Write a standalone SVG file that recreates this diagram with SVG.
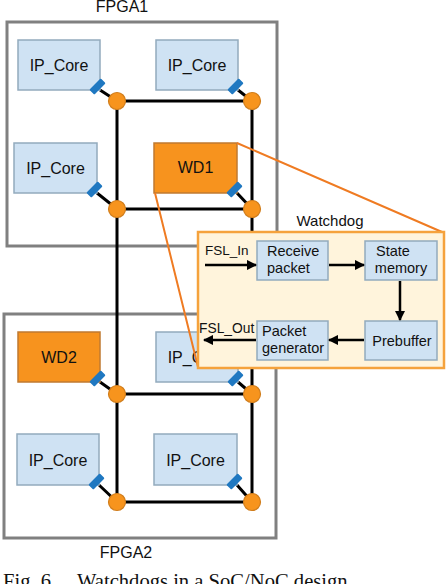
<svg xmlns="http://www.w3.org/2000/svg" width="446" height="584" viewBox="0 0 446 584">
<style>
text{font-family:"Liberation Sans",Arial,sans-serif;fill:#111}
.fpga{fill:#fff;stroke:#808080;stroke-width:3}
.ip{fill:#cfe2f3;stroke:#93aabd;stroke-width:1.5}
.wd{fill:#f7931e;stroke:#c07a30;stroke-width:1.5}
.rt{fill:#f7941d;stroke:#d07d1c;stroke-width:1.2}
.pt{fill:#1f78c1}
.lk{stroke:#000;stroke-width:3;fill:none}
.zm{stroke:#ef7b22;stroke-width:2;fill:none}
.wbox{fill:#fff4dc;stroke:#f5a23c;stroke-width:2.5}
.blk{fill:#cfe2f3;stroke:#93aabd;stroke-width:1.5}
.ar{stroke:#000;stroke-width:2.5;fill:none}
.lbl{font-size:16px}
.t15{font-size:14.5px}
</style>
<defs>
<marker id="ah" viewBox="0 0 10 10" refX="9" refY="5" markerWidth="4.2" markerHeight="4.2" orient="auto" markerUnits="strokeWidth">
<path d="M0,0 L10,5 L0,10 Z" fill="#000"/>
</marker>
<rect id="port" x="-8" y="-3.5" width="16" height="7" rx="1"/>
</defs>

<g id="fpga1">
<rect class="fpga" x="7" y="22" width="270" height="224"/>
<text x="122" y="12" text-anchor="middle" class="lbl">FPGA1</text>
</g>
<g id="fpga2">
<rect class="fpga" x="4" y="314" width="272" height="224"/>
<text x="126" y="558" text-anchor="middle" class="lbl">FPGA2</text>
</g>

<g id="connectors">
<path class="lk" d="M117,101 H252 M117,209 H252 M117,394 H252 M117,502 H252 M117,101 V502 M252,101 V502"/>
<path class="lk" d="M100,90 L117,101 M238,90 L252,101 M97,193 L117,209 M237,193 L252,209 M100,382 L117,394 M238,382 L252,394 M99,485 L117,502 M237,485 L252,502"/>
</g>

<g id="ip1"><rect class="ip" x="18" y="40" width="82" height="50"/><text x="59" y="71" text-anchor="middle" class="lbl">IP_Core</text></g>
<g id="ip2"><rect class="ip" x="156" y="40" width="82" height="50"/><text x="197" y="71" text-anchor="middle" class="lbl">IP_Core</text></g>
<g id="ip3"><rect class="ip" x="14" y="143" width="83" height="50"/><text x="55.5" y="174" text-anchor="middle" class="lbl">IP_Core</text></g>
<g id="wd1"><rect class="wd" x="154" y="143" width="83" height="50"/><text x="195.5" y="173" text-anchor="middle" class="lbl">WD1</text></g>
<g id="wd2"><rect class="wd" x="18" y="332" width="82" height="50"/><text x="59" y="363" text-anchor="middle" class="lbl">WD2</text></g>
<g id="ip4"><rect class="ip" x="156" y="332" width="82" height="50"/><text x="197" y="363" text-anchor="middle" class="lbl">IP_Core</text></g>
<g id="ip5"><rect class="ip" x="17" y="434" width="82" height="51"/><text x="58" y="466" text-anchor="middle" class="lbl">IP_Core</text></g>
<g id="ip6"><rect class="ip" x="154" y="434" width="83" height="51"/><text x="195.5" y="466" text-anchor="middle" class="lbl">IP_Core</text></g>

<g id="ports" class="pt">
<use href="#port" transform="translate(97.5,86.5) rotate(-45)"/>
<use href="#port" transform="translate(235.5,86.5) rotate(-45)"/>
<use href="#port" transform="translate(94.5,189.5) rotate(-45)"/>
<use href="#port" transform="translate(234.5,189.5) rotate(-45)"/>
<use href="#port" transform="translate(97.5,378.5) rotate(-45)"/>
<use href="#port" transform="translate(235.5,378.5) rotate(-45)"/>
<use href="#port" transform="translate(96.5,481.5) rotate(-45)"/>
<use href="#port" transform="translate(234.5,481.5) rotate(-45)"/>
</g>

<g id="routers">
<circle class="rt" cx="117" cy="101" r="8.5"/>
<circle class="rt" cx="252" cy="101" r="8.5"/>
<circle class="rt" cx="117" cy="209" r="8.5"/>
<circle class="rt" cx="252" cy="209" r="8.5"/>
<circle class="rt" cx="117" cy="394" r="8.5"/>
<circle class="rt" cx="252" cy="394" r="8.5"/>
<circle class="rt" cx="117" cy="502" r="8.5"/>
<circle class="rt" cx="252" cy="502" r="8.5"/>
</g>

<g id="zoomlines">
<path class="zm" d="M237,143 L442,232 M155,193 L198,367"/>
</g>

<g id="watchdog">
<text x="330" y="226" text-anchor="middle" style="font-size:15px">Watchdog</text>
<rect class="wbox" x="198" y="232" width="246" height="136"/>
<g id="receive"><rect class="blk" x="257" y="241" width="71" height="39"/><text class="t15" x="267" y="256">Receive</text><text class="t15" x="267" y="273">packet</text></g>
<g id="state"><rect class="blk" x="365" y="241" width="72" height="39"/><text class="t15" x="393" y="256" text-anchor="middle">State</text><text class="t15" x="401" y="273" text-anchor="middle">memory</text></g>
<g id="prebuffer"><rect class="blk" x="365" y="321" width="72" height="39"/><text class="t15" x="402" y="346" text-anchor="middle">Prebuffer</text></g>
<g id="packetgen"><rect class="blk" x="257" y="321" width="71" height="39"/><text class="t15" x="262" y="336">Packet</text><text class="t15" x="262" y="353">generator</text></g>
<g id="wd-connectors">
<path class="ar" marker-end="url(#ah)" d="M205,265 H256"/>
<path class="ar" marker-end="url(#ah)" d="M329,265 H364"/>
<path class="ar" marker-end="url(#ah)" d="M400,281 V320"/>
<path class="ar" marker-end="url(#ah)" d="M364,340 H329"/>
<path class="ar" marker-end="url(#ah)" d="M256,340 H204"/>
</g>
<text x="205" y="255" style="font-size:13.5px">FSL_In</text>
<text x="199" y="333" style="font-size:13.8px">FSL_Out</text>
</g>

<g id="caption">
<text x="3" y="588" style="font-family:'Liberation Serif','Times New Roman',serif;font-size:20.6px">Fig. 6.</text>
<text x="77" y="588" style="font-family:'Liberation Serif','Times New Roman',serif;font-size:20.6px">Watchdogs in a SoC/NoC design</text>
</g>
</svg>
